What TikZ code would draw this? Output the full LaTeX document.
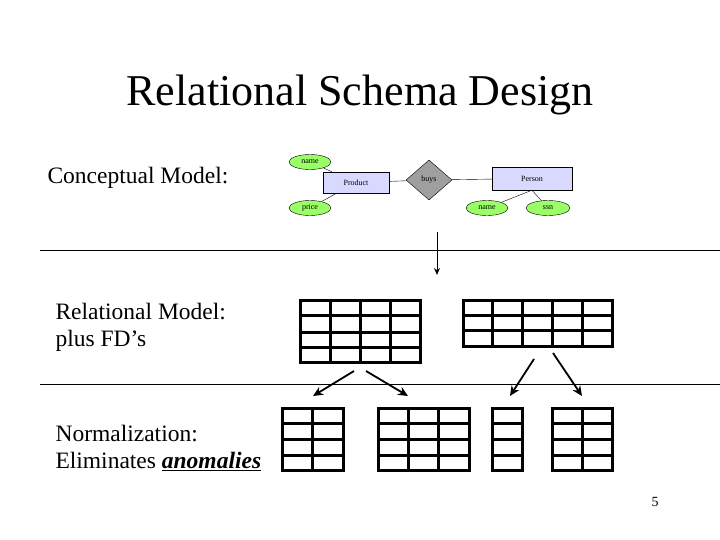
\documentclass[tikz,border=0pt]{standalone}
\usepackage{fontspec}
\setmainfont{Liberation Serif}
\usetikzlibrary{shapes.geometric,arrows.meta}
\begin{document}
\begin{tikzpicture}[x=1pt,y=-1pt,
 tab/.style={line width=3pt},
 attr/.style={ellipse,draw,fill=green!55!lime!60,minimum width=42pt,minimum height=15pt,inner sep=0pt,font=\fontsize{8}{9}\selectfont},
 ent/.style={draw,fill=blue!15,font=\fontsize{8}{9}\selectfont},
 arr/.style={line width=1.8pt,-{Stealth[length=10pt,width=9pt]}},
 lab/.style={anchor=west,font=\fontsize{23.5}{27}\selectfont,align=left}]
\useasboundingbox (0,0) rectangle (720,540);
\node (title) at (360,95) {\fontsize{44}{48}\selectfont Relational Schema Design};
\node[lab] (cm) at (44,178) {Conceptual Model:};
\node[lab] (rm) at (52,327) {Relational Model:\\plus FD’s};
\node[lab] (nm) at (52,448) {Normalization:\\Eliminates \textbf{\textit{\underline{anomalies}}}};
\node (pg) at (655,502) {\fontsize{14}{16}\selectfont 5};
% ER
\node[ent,minimum width=66pt,minimum height=21pt] (prod) at (356,182.5) {Product};
\node[ent,minimum width=80pt,minimum height=23pt] (pers) at (532,178.5) {Person};
\node[diamond,draw,fill=gray!75,minimum width=46pt,minimum height=40pt,inner sep=0pt,font=\fontsize{8}{9}\selectfont] (buys) at (429,180) {buys};
\node[attr] (pn) at (310,162) {name};
\node[attr] (pp) at (310,208) {price};
\node[attr] (n2) at (487,208) {name};
\node[attr,minimum width=44pt] (ssn) at (548,208) {ssn};
\draw (pn) -- (prod); \draw (pp) -- (prod);
\draw (prod) -- (buys) -- (pers);
\draw (n2) -- (pers.south); \draw (ssn) -- (pers.south);
% lines
\coordinate (l1a) at (40,250); \coordinate (l1b) at (720,250);
\coordinate (l2a) at (40,384); \coordinate (l2b) at (720,384);
\draw (l1a) -- (l1b); \draw (l2a) -- (l2b);
\coordinate (va) at (437,232); \coordinate (vb) at (437,275);
\draw[line width=1pt,-{Stealth[length=7pt,width=6pt]}] (va) -- (vb);
% tables
\draw[tab] (300,300) rectangle (420,362);
\foreach \xx in {330,360,390} \draw[tab] (\xx,300) -- (\xx,362);
\foreach \yy in {315,332,347} \draw[tab] (300,\yy) -- (420,\yy);
\draw[tab] (463,300) rectangle (612,346);
\foreach \xx in {492,522,552,582} \draw[tab] (\xx,300) -- (\xx,346);
\foreach \yy in {315,330} \draw[tab] (463,\yy) -- (612,\yy);
\foreach \a/\b/\cols in {282/343/{312},378/469/{408,438},492/522/{},552/612/{582}}{
 \draw[tab] (\a,408) rectangle (\b,470);
 \foreach \xx in \cols \draw[tab] (\xx,408) -- (\xx,470);
 \foreach \yy in {423,439,455} \draw[tab] (\a,\yy) -- (\b,\yy);
}
\coordinate (a1) at (354,371); \coordinate (b1) at (313,396);
\coordinate (a2) at (366,371); \coordinate (b2) at (408,396);
\coordinate (a3) at (534,359); \coordinate (b3) at (510,396);
\coordinate (a4) at (553,353); \coordinate (b4) at (582,396);
\draw[arr] (a1) -- (b1); \draw[arr] (a2) -- (b2);
\draw[arr] (a3) -- (b3); \draw[arr] (a4) -- (b4);
\end{tikzpicture}
\end{document}
